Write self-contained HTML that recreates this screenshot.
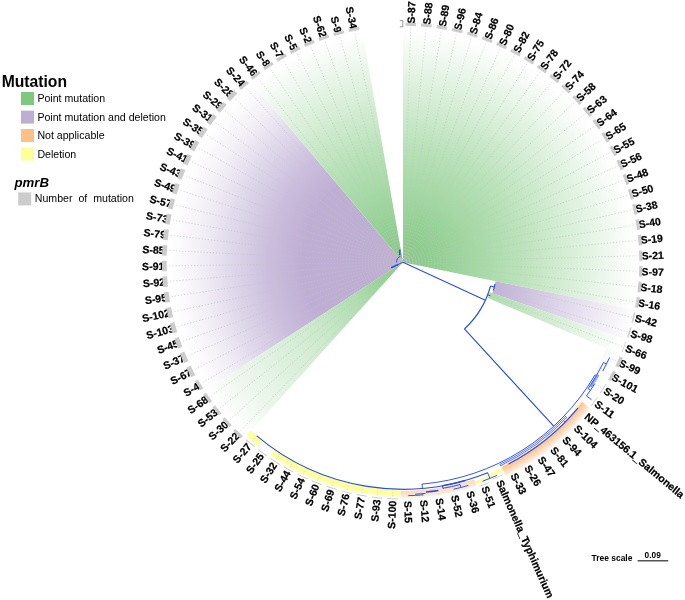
<!DOCTYPE html>
<html lang="en"><head><meta charset="utf-8"><title>Tree</title>
<style>
html,body{margin:0;padding:0;background:#fff;}
body{width:685px;height:600px;overflow:hidden;}
svg{display:block;}
</style></head><body>
<svg width="685" height="600" viewBox="0 0 685 600">
<defs><radialGradient id="g1" gradientUnits="userSpaceOnUse" cx="403" cy="262.2" r="234"><stop offset="0.0000" stop-color="#7fc97f"/><stop offset="0.5000" stop-color="#bae2ba"/><stop offset="0.8120" stop-color="#e5f4e5"/><stop offset="0.9915" stop-color="#ffffff"/></radialGradient><radialGradient id="g2" gradientUnits="userSpaceOnUse" cx="403" cy="262.2" r="240"><stop offset="0.3667" stop-color="#beaed4"/><stop offset="1.0000" stop-color="#ffffff"/></radialGradient><radialGradient id="g3" gradientUnits="userSpaceOnUse" cx="403" cy="262.2" r="234"><stop offset="0.0000" stop-color="#7fc97f"/><stop offset="0.5000" stop-color="#bae2ba"/><stop offset="0.8120" stop-color="#e5f4e5"/><stop offset="0.9915" stop-color="#ffffff"/></radialGradient><radialGradient id="g4" gradientUnits="userSpaceOnUse" cx="403" cy="262.2" r="234"><stop offset="0.0000" stop-color="#7fc97f"/><stop offset="0.2564" stop-color="#b0deb0"/><stop offset="0.5128" stop-color="#d0ebd0"/><stop offset="0.8547" stop-color="#edf7ed"/><stop offset="1.0000" stop-color="#ffffff"/></radialGradient><radialGradient id="g5" gradientUnits="userSpaceOnUse" cx="403" cy="262.2" r="234"><stop offset="0.0000" stop-color="#beaed4"/><stop offset="0.4274" stop-color="#beaed4"/><stop offset="0.5769" stop-color="#cbbedd"/><stop offset="0.7265" stop-color="#ded6ea"/><stop offset="0.8547" stop-color="#f1edf6"/><stop offset="0.9915" stop-color="#ffffff"/></radialGradient><radialGradient id="g6" gradientUnits="userSpaceOnUse" cx="403" cy="262.2" r="234"><stop offset="0.0000" stop-color="#7fc97f"/><stop offset="0.5000" stop-color="#bae2ba"/><stop offset="0.8120" stop-color="#e5f4e5"/><stop offset="0.9915" stop-color="#ffffff"/></radialGradient><radialGradient id="g7" gradientUnits="userSpaceOnUse" cx="403" cy="262.2" r="236"><stop offset="0.9364" stop-color="#f7f8fa"/><stop offset="1.0000" stop-color="#ffffff"/></radialGradient><radialGradient id="g8" gradientUnits="userSpaceOnUse" cx="403" cy="262.2" r="237.5"><stop offset="0.9528" stop-color="#fdc086"/><stop offset="0.9646" stop-color="#fdc797"/><stop offset="1.0000" stop-color="#fff6ee"/></radialGradient><radialGradient id="g9" gradientUnits="userSpaceOnUse" cx="403" cy="262.2" r="232.3"><stop offset="0.9836" stop-color="#ffff96"/><stop offset="0.9935" stop-color="#ffffa0"/><stop offset="1.0000" stop-color="#ffffc4"/></radialGradient><radialGradient id="g10" gradientUnits="userSpaceOnUse" cx="403" cy="262.2" r="234.2"><stop offset="0.9846" stop-color="#ffff96"/><stop offset="0.9939" stop-color="#ffffa0"/><stop offset="1.0000" stop-color="#ffffc4"/></radialGradient><radialGradient id="g11" gradientUnits="userSpaceOnUse" cx="403" cy="262.2" r="235.6"><stop offset="0.9711" stop-color="#fcd8bb"/><stop offset="1.0000" stop-color="#fdeee2"/></radialGradient><radialGradient id="g12" gradientUnits="userSpaceOnUse" cx="403" cy="262.2" r="234.5"><stop offset="0.9680" stop-color="#ffff96"/><stop offset="0.9872" stop-color="#ffffa0"/><stop offset="1.0000" stop-color="#ffffc4"/></radialGradient><radialGradient id="g13" gradientUnits="userSpaceOnUse" cx="403" cy="262.2" r="234.5"><stop offset="0.9680" stop-color="#ffff96"/><stop offset="0.9872" stop-color="#ffffa0"/><stop offset="1.0000" stop-color="#ffffc4"/></radialGradient></defs>
<rect width="685" height="600" fill="#fff"/>
<path d="M403 262.2L403 27.2A235 235 0 0 1 633.19 309.51Z" fill="url(#g1)"/>
<path d="M633.19 309.51A235 235 0 0 1 625.01 339.25L492.28 293.18A94.5 94.5 0 0 0 495.57 281.22Z" fill="url(#g2)"/>
<path d="M625.01 339.25A235 235 0 0 1 619.47 353.66L487.75 298A92 92 0 0 0 489.91 292.36Z" fill="url(#g3)"/>
<path d="M403 262.2L245.62 436.72A235 235 0 0 1 205.7 389.86Z" fill="url(#g4)"/>
<path d="M403 262.2L205.7 389.86A235 235 0 0 1 251.61 82.46Z" fill="url(#g5)"/>
<path d="M403 262.2L251.61 82.46A235 235 0 0 1 362.19 30.77Z" fill="url(#g6)"/>
<path d="M620.39 354.05A236 236 0 0 1 589.08 407.36L577.25 398.13A221 221 0 0 0 606.58 348.21Z" fill="url(#g7)"/>
<path d="M590.26 408.28A237.5 237.5 0 0 1 505.99 476.21L501.13 466.12A226.3 226.3 0 0 0 581.43 401.39Z" fill="url(#g8)"/>
<path d="M503.74 471.52A232.3 232.3 0 0 1 489.78 477.68L488.36 474.16A228.5 228.5 0 0 0 502.09 468.1Z" fill="url(#g9)"/>
<path d="M490.49 479.45A234.2 234.2 0 0 1 476.04 484.72L474.92 481.3A230.6 230.6 0 0 0 489.14 476.11Z" fill="url(#g10)"/>
<path d="M476.48 486.05A235.6 235.6 0 0 1 400.35 497.79L400.42 490.99A228.8 228.8 0 0 0 474.36 479.59Z" fill="url(#g11)"/>
<path d="M400.36 496.69A234.5 234.5 0 0 1 270.12 455.42L274.37 449.24A227 227 0 0 0 400.44 489.19Z" fill="url(#g12)"/>
<path d="M257.73 446.28A234.5 234.5 0 0 1 245.96 436.35L250.98 430.78A227 227 0 0 0 262.37 440.39Z" fill="url(#g13)"/>
<path d="M403 262.2L410.75 26.33M403 262.2L426.21 27.34M403 262.2L441.58 29.37M403 262.2L456.78 32.41M403 262.2L471.75 36.43M403 262.2L486.42 41.43M403 262.2L500.73 47.38M403 262.2L514.62 54.26M403 262.2L528.02 62.04M403 262.2L540.89 70.68M403 262.2L553.17 80.14M403 262.2L564.79 90.39M403 262.2L575.72 101.38M403 262.2L585.9 113.06M403 262.2L595.3 125.39M403 262.2L603.86 138.31M403 262.2L611.56 151.76M403 262.2L618.36 165.68M403 262.2L624.23 180.03M403 262.2L629.15 194.73M403 262.2L633.09 209.72M403 262.2L636.04 224.93M403 262.2L637.98 240.31M403 262.2L638.91 255.78M403 262.2L638.83 271.28M403 262.2L637.72 286.74M403 262.2L635.6 302.09M494.99 284.28L632.48 317.27M493.34 290.27L628.37 332.22M490.74 295.92L623.29 346.86M609.54 357.57L617.26 361.13M602.84 370.92L610.31 374.98M594.85 383.54L602.46 388.35M591.48 399.52L593.75 401.17M577.69 407.94L584.21 413.39M567.74 419.09L573.9 424.96M557.09 429.57L562.85 435.82M545.77 439.32L551.11 445.94M533.84 448.31L538.73 455.27M521.34 456.5L525.76 463.76M508.33 463.85L512.27 471.38M497.09 475.36L498.3 478.1M482.9 481.07L483.92 483.89M468.22 485.37L469.2 488.73M453.43 489.17L454.19 492.58M438.19 490.5L438.96 495.44M423.32 494.51L423.57 497.3M408.03 495.35L408.09 498.15M392.99 488.98L392.6 497.97M378.13 487.83L377.14 496.78M363.37 485.71L361.8 494.58M348.79 482.63L346.64 491.37M334.44 478.6L331.72 487.18M320.38 473.63L317.1 482.01M306.68 467.75L302.86 475.9M293.4 460.99L289.05 468.87M280.58 453.36L275.73 460.94M268.3 444.92L262.96 452.16M256.6 435.68L250.79 442.56M403 262.2L239.28 432.18M403 262.2L228.48 421.07M403 262.2L218.43 409.27M403 262.2L209.17 396.84M403 262.2L200.75 383.82M403 262.2L193.21 370.29M403 262.2L186.56 356.28M403 262.2L180.86 341.88M403 262.2L176.11 327.12M403 262.2L172.33 312.09M403 262.2L169.56 296.84M403 262.2L167.79 281.44M403 262.2L167.03 265.96M403 262.2L167.29 250.47M403 262.2L168.57 235.02M403 262.2L170.86 219.69M403 262.2L174.15 204.55M403 262.2L178.43 189.65M403 262.2L183.67 175.07M403 262.2L189.87 160.86M403 262.2L196.98 147.09M403 262.2L204.98 133.81M403 262.2L213.83 121.09M403 262.2L223.5 108.98M403 262.2L233.95 97.53M403 262.2L245.12 86.79M403 262.2L256.97 76.8M403 262.2L269.46 67.62M403 262.2L282.52 59.27M403 262.2L296.1 51.8M403 262.2L310.14 45.24M403 262.2L324.58 39.61M403 262.2L339.36 34.94M403 262.2L354.41 31.26" fill="none" stroke="#c3c3c3" stroke-opacity="0.9" stroke-width="0.7" stroke-dasharray="1.3 1.8"/>
<path d="M581.98 401.82A227 227 0 0 1 501.44 466.75" fill="none" stroke="#fff" stroke-opacity="0.8" stroke-width="0.9"/>
<path d="M403 262.2L485.34 300.24M490.53 285.98A90.7 90.7 0 0 1 464.39 328.96M490.53 285.98L494.29 287M495.06 283.96A94.6 94.6 0 0 1 493.32 290.33M487.68 294.7L490.29 295.71M464.39 328.96L553.74 426.13" fill="none" stroke="#2a4fe4" stroke-width="1.15" stroke-linejoin="miter"/>
<path d="M564.54 415.5L566.72 417.56M565.67 416.56A224.25 224.25 0 0 1 499.9 464.44M566.72 417.56A225.7 225.7 0 0 1 500.52 465.74M499.9 464.44L500.52 465.74M563.7 420.68L565.2 422.15" fill="none" stroke="#2a4fe4" stroke-width="0.75"/>
<path d="M595.08 374.89A222.7 222.7 0 0 1 422.02 484.09M595.08 374.89L596.38 375.65M603.47 362.59A224.2 224.2 0 0 1 588.21 388.54M603.47 362.59L606.42 364.07M609.52 357.63A227.5 227.5 0 0 1 602.74 371.1M588.21 388.54L590.52 390.12M594.66 383.83A227 227 0 0 1 586.41 395.95M586.41 395.95L591.42 399.6M487.52 472.45L489.91 478.39M497.03 475.39A233 233 0 0 1 482.69 481.15M422.02 484.09L422.39 488.37M442.45 485.95L442.87 488.31M460.1 484.59A229.6 229.6 0 0 1 442.87 488.31M460.1 484.59L460.7 486.91M468.28 485.45A232.6 232.6 0 0 1 453.74 489.2M425.67 493.39A232.3 232.3 0 0 1 415.16 494.18M423.35 494.81A233.5 233.5 0 0 1 408.3 495.64M396.5 262.43A6.5 6.5 0 0 1 400.46 256.22M403 262.2L397.56 264.74" fill="none" stroke="#2a4fe4" stroke-width="0.95" stroke-linecap="butt"/>
<path d="M465.57 480.41A227 227 0 0 1 442.42 485.75M438.34 490.48A231 231 0 0 1 425.94 492.06M399.8 255.3L399.7 249.6M398.02 264.52L391.22 267.69" fill="none" stroke="#2a4fe4" stroke-width="1.6"/>
<path d="M577.89 408.17A227.8 227.8 0 0 1 508.54 464.08M487.67 472.82A227 227 0 0 1 256.78 435.84" fill="none" stroke="#2a4fe4" stroke-width="1.15"/>
<path d="M598.2 374.9A225.4 225.4 0 0 1 590.74 386.93" fill="none" stroke="#2a4fe4" stroke-width="2.4" stroke-dasharray="0.55 0.55"/>
<g font-family="'Liberation Sans', Arial, sans-serif" font-weight="bold" font-size="10.55" fill="#000" stroke="#000" stroke-width="0.22" stroke-linejoin="round"><text transform="translate(403 262.2) rotate(-88.12)" x="238.7" y="3.8">S-87</text><text transform="translate(403 262.2) rotate(-84.35)" x="238.7" y="3.8">S-88</text><text transform="translate(403 262.2) rotate(-80.59)" x="238.7" y="3.8">S-89</text><text transform="translate(403 262.2) rotate(-76.83)" x="238.7" y="3.8">S-96</text><text transform="translate(403 262.2) rotate(-73.06)" x="238.7" y="3.8">S-84</text><text transform="translate(403 262.2) rotate(-69.3)" x="238.7" y="3.8">S-86</text><text transform="translate(403 262.2) rotate(-65.54)" x="238.7" y="3.8">S-80</text><text transform="translate(403 262.2) rotate(-61.77)" x="238.7" y="3.8">S-82</text><text transform="translate(403 262.2) rotate(-58.01)" x="238.7" y="3.8">S-75</text><text transform="translate(403 262.2) rotate(-54.25)" x="238.7" y="3.8">S-78</text><text transform="translate(403 262.2) rotate(-50.48)" x="238.7" y="3.8">S-72</text><text transform="translate(403 262.2) rotate(-46.72)" x="238.7" y="3.8">S-74</text><text transform="translate(403 262.2) rotate(-42.96)" x="238.7" y="3.8">S-58</text><text transform="translate(403 262.2) rotate(-39.19)" x="238.7" y="3.8">S-63</text><text transform="translate(403 262.2) rotate(-35.43)" x="238.7" y="3.8">S-64</text><text transform="translate(403 262.2) rotate(-31.67)" x="238.7" y="3.8">S-65</text><text transform="translate(403 262.2) rotate(-27.9)" x="238.7" y="3.8">S-55</text><text transform="translate(403 262.2) rotate(-24.14)" x="238.7" y="3.8">S-56</text><text transform="translate(403 262.2) rotate(-20.38)" x="238.7" y="3.8">S-48</text><text transform="translate(403 262.2) rotate(-16.61)" x="238.7" y="3.8">S-50</text><text transform="translate(403 262.2) rotate(-12.85)" x="238.7" y="3.8">S-38</text><text transform="translate(403 262.2) rotate(-9.09)" x="238.7" y="3.8">S-40</text><text transform="translate(403 262.2) rotate(-5.32)" x="238.7" y="3.8">S-19</text><text transform="translate(403 262.2) rotate(-1.56)" x="238.7" y="3.8">S-21</text><text transform="translate(403 262.2) rotate(2.2)" x="238.7" y="3.8">S-97</text><text transform="translate(403 262.2) rotate(5.97)" x="238.7" y="3.8">S-18</text><text transform="translate(403 262.2) rotate(9.73)" x="238.7" y="3.8">S-16</text><text transform="translate(403 262.2) rotate(13.49)" x="238.7" y="3.8">S-42</text><text transform="translate(403 262.2) rotate(17.26)" x="238.7" y="3.8">S-98</text><text transform="translate(403 262.2) rotate(21.02)" x="238.7" y="3.8">S-66</text><text transform="translate(403 262.2) rotate(24.78)" x="238.7" y="3.8">S-99</text><text transform="translate(403 262.2) rotate(28.55)" x="238.7" y="3.8">S-101</text><text transform="translate(403 262.2) rotate(32.31)" x="238.7" y="3.8">S-20</text><text transform="translate(403 262.2) rotate(36.08)" x="238.7" y="3.8">S-11</text><text transform="translate(403 262.2) rotate(39.84)" x="238.7" y="3.8">NP_463156.1_Salmonella</text><text transform="translate(403 262.2) rotate(43.6)" x="238.7" y="3.8">S-104</text><text transform="translate(403 262.2) rotate(47.37)" x="238.7" y="3.8">S-94</text><text transform="translate(403 262.2) rotate(51.13)" x="238.7" y="3.8">S-81</text><text transform="translate(403 262.2) rotate(54.89)" x="238.7" y="3.8">S-47</text><text transform="translate(403 262.2) rotate(58.66)" x="238.7" y="3.8">S-26</text><text transform="translate(403 262.2) rotate(62.42)" x="238.7" y="3.8">S-33</text><text transform="translate(403 262.2) rotate(66.18)" x="238.7" y="3.8">Salmonella_Typhimurium</text><text transform="translate(403 262.2) rotate(69.95)" x="238.7" y="3.8">S-51</text><text transform="translate(403 262.2) rotate(73.71)" x="238.7" y="3.8">S-36</text><text transform="translate(403 262.2) rotate(77.47)" x="238.7" y="3.8">S-52</text><text transform="translate(403 262.2) rotate(81.24)" x="238.7" y="3.8">S-14</text><text transform="translate(403 262.2) rotate(85)" x="238.7" y="3.8">S-12</text><text transform="translate(403 262.2) rotate(88.76)" x="238.7" y="3.8">S-15</text><text transform="translate(403 262.2) rotate(272.53)" x="-238.7" y="3.8" text-anchor="end">S-100</text><text transform="translate(403 262.2) rotate(276.29)" x="-238.7" y="3.8" text-anchor="end">S-93</text><text transform="translate(403 262.2) rotate(280.05)" x="-238.7" y="3.8" text-anchor="end">S-77</text><text transform="translate(403 262.2) rotate(283.82)" x="-238.7" y="3.8" text-anchor="end">S-76</text><text transform="translate(403 262.2) rotate(287.58)" x="-238.7" y="3.8" text-anchor="end">S-69</text><text transform="translate(403 262.2) rotate(291.34)" x="-238.7" y="3.8" text-anchor="end">S-60</text><text transform="translate(403 262.2) rotate(295.11)" x="-238.7" y="3.8" text-anchor="end">S-54</text><text transform="translate(403 262.2) rotate(298.87)" x="-238.7" y="3.8" text-anchor="end">S-44</text><text transform="translate(403 262.2) rotate(302.63)" x="-238.7" y="3.8" text-anchor="end">S-32</text><text transform="translate(403 262.2) rotate(306.4)" x="-238.7" y="3.8" text-anchor="end">S-25</text><text transform="translate(403 262.2) rotate(310.16)" x="-238.7" y="3.8" text-anchor="end">S-27</text><text transform="translate(403 262.2) rotate(313.92)" x="-238.7" y="3.8" text-anchor="end">S-22</text><text transform="translate(403 262.2) rotate(317.69)" x="-238.7" y="3.8" text-anchor="end">S-30</text><text transform="translate(403 262.2) rotate(321.45)" x="-238.7" y="3.8" text-anchor="end">S-53</text><text transform="translate(403 262.2) rotate(325.22)" x="-238.7" y="3.8" text-anchor="end">S-68</text><text transform="translate(403 262.2) rotate(328.98)" x="-238.7" y="3.8" text-anchor="end">S-4</text><text transform="translate(403 262.2) rotate(332.74)" x="-238.7" y="3.8" text-anchor="end">S-67</text><text transform="translate(403 262.2) rotate(336.51)" x="-238.7" y="3.8" text-anchor="end">S-37</text><text transform="translate(403 262.2) rotate(340.27)" x="-238.7" y="3.8" text-anchor="end">S-45</text><text transform="translate(403 262.2) rotate(344.03)" x="-238.7" y="3.8" text-anchor="end">S-103</text><text transform="translate(403 262.2) rotate(347.8)" x="-238.7" y="3.8" text-anchor="end">S-102</text><text transform="translate(403 262.2) rotate(351.56)" x="-238.7" y="3.8" text-anchor="end">S-95</text><text transform="translate(403 262.2) rotate(355.32)" x="-238.7" y="3.8" text-anchor="end">S-92</text><text transform="translate(403 262.2) rotate(359.09)" x="-238.7" y="3.8" text-anchor="end">S-91</text><text transform="translate(403 262.2) rotate(362.85)" x="-238.7" y="3.8" text-anchor="end">S-85</text><text transform="translate(403 262.2) rotate(366.61)" x="-238.7" y="3.8" text-anchor="end">S-79</text><text transform="translate(403 262.2) rotate(370.38)" x="-238.7" y="3.8" text-anchor="end">S-73</text><text transform="translate(403 262.2) rotate(374.14)" x="-238.7" y="3.8" text-anchor="end">S-57</text><text transform="translate(403 262.2) rotate(377.9)" x="-238.7" y="3.8" text-anchor="end">S-49</text><text transform="translate(403 262.2) rotate(381.67)" x="-238.7" y="3.8" text-anchor="end">S-43</text><text transform="translate(403 262.2) rotate(385.43)" x="-238.7" y="3.8" text-anchor="end">S-41</text><text transform="translate(403 262.2) rotate(389.19)" x="-238.7" y="3.8" text-anchor="end">S-39</text><text transform="translate(403 262.2) rotate(392.96)" x="-238.7" y="3.8" text-anchor="end">S-35</text><text transform="translate(403 262.2) rotate(396.72)" x="-238.7" y="3.8" text-anchor="end">S-31</text><text transform="translate(403 262.2) rotate(400.48)" x="-238.7" y="3.8" text-anchor="end">S-29</text><text transform="translate(403 262.2) rotate(404.25)" x="-238.7" y="3.8" text-anchor="end">S-28</text><text transform="translate(403 262.2) rotate(408.01)" x="-238.7" y="3.8" text-anchor="end">S-24</text><text transform="translate(403 262.2) rotate(411.77)" x="-238.7" y="3.8" text-anchor="end">S-46</text><text transform="translate(403 262.2) rotate(415.54)" x="-238.7" y="3.8" text-anchor="end">S-8</text><text transform="translate(403 262.2) rotate(419.3)" x="-238.7" y="3.8" text-anchor="end">S-7</text><text transform="translate(403 262.2) rotate(423.06)" x="-238.7" y="3.8" text-anchor="end">S-5</text><text transform="translate(403 262.2) rotate(426.83)" x="-238.7" y="3.8" text-anchor="end">S-2</text><text transform="translate(403 262.2) rotate(430.59)" x="-238.7" y="3.8" text-anchor="end">S-62</text><text transform="translate(403 262.2) rotate(434.35)" x="-238.7" y="3.8" text-anchor="end">S-9</text><text transform="translate(403 262.2) rotate(438.12)" x="-238.7" y="3.8" text-anchor="end">S-34</text></g>
<g fill="#cccccc"><rect x="236.3" y="-5.3" width="3.2" height="10.6" transform="translate(403 262.2) rotate(-88.12)"/><rect x="236.3" y="-5.3" width="3.2" height="10.6" transform="translate(403 262.2) rotate(-84.35)"/><rect x="236.3" y="-5.3" width="3.2" height="10.6" transform="translate(403 262.2) rotate(-80.59)"/><rect x="236.3" y="-5.3" width="3.2" height="10.6" transform="translate(403 262.2) rotate(-76.83)"/><rect x="236.3" y="-5.3" width="3.2" height="10.6" transform="translate(403 262.2) rotate(-73.06)"/><rect x="236.3" y="-5.3" width="3.2" height="10.6" transform="translate(403 262.2) rotate(-69.3)"/><rect x="236.3" y="-5.3" width="3.2" height="10.6" transform="translate(403 262.2) rotate(-65.54)"/><rect x="236.3" y="-5.3" width="3.2" height="10.6" transform="translate(403 262.2) rotate(-61.77)"/><rect x="236.3" y="-5.3" width="3.2" height="10.6" transform="translate(403 262.2) rotate(-58.01)"/><rect x="236.3" y="-5.3" width="3.2" height="10.6" transform="translate(403 262.2) rotate(-54.25)"/><rect x="236.3" y="-5.3" width="3.2" height="10.6" transform="translate(403 262.2) rotate(-50.48)"/><rect x="236.3" y="-5.3" width="3.2" height="10.6" transform="translate(403 262.2) rotate(-46.72)"/><rect x="236.3" y="-5.3" width="3.2" height="10.6" transform="translate(403 262.2) rotate(-42.96)"/><rect x="236.3" y="-5.3" width="3.2" height="10.6" transform="translate(403 262.2) rotate(-39.19)"/><rect x="236.3" y="-5.3" width="3.2" height="10.6" transform="translate(403 262.2) rotate(-35.43)"/><rect x="236.3" y="-5.3" width="3.2" height="10.6" transform="translate(403 262.2) rotate(-31.67)"/><rect x="236.3" y="-5.3" width="3.2" height="10.6" transform="translate(403 262.2) rotate(-27.9)"/><rect x="236.3" y="-5.3" width="3.2" height="10.6" transform="translate(403 262.2) rotate(-24.14)"/><rect x="236.3" y="-5.3" width="3.2" height="10.6" transform="translate(403 262.2) rotate(-20.38)"/><rect x="236.3" y="-5.3" width="3.2" height="10.6" transform="translate(403 262.2) rotate(-16.61)"/><rect x="236.3" y="-5.3" width="3.2" height="10.6" transform="translate(403 262.2) rotate(-12.85)"/><rect x="236.3" y="-5.3" width="3.2" height="10.6" transform="translate(403 262.2) rotate(-9.09)"/><rect x="236.3" y="-5.3" width="3.2" height="10.6" transform="translate(403 262.2) rotate(-5.32)"/><rect x="236.3" y="-5.3" width="3.2" height="10.6" transform="translate(403 262.2) rotate(-1.56)"/><rect x="236.3" y="-5.3" width="3.2" height="10.6" transform="translate(403 262.2) rotate(2.2)"/><rect x="236.3" y="-5.3" width="3.2" height="10.6" transform="translate(403 262.2) rotate(5.97)"/><rect x="236.3" y="-5.3" width="3.2" height="10.6" transform="translate(403 262.2) rotate(9.73)"/><rect x="236.3" y="-5.3" width="1.5" height="10.6" transform="translate(403 262.2) rotate(13.49)"/><rect x="236.3" y="-5.3" width="1.5" height="10.6" transform="translate(403 262.2) rotate(17.26)"/><rect x="236.3" y="-5.3" width="3.6" height="10.6" transform="translate(403 262.2) rotate(24.78)"/><rect x="236.3" y="-5.3" width="3.2" height="10.6" transform="translate(403 262.2) rotate(28.55)"/><rect x="236.3" y="-5.3" width="3.2" height="10.6" transform="translate(403 262.2) rotate(133.92)"/><rect x="236.3" y="-5.3" width="3.2" height="10.6" transform="translate(403 262.2) rotate(137.69)"/><rect x="236.3" y="-5.3" width="3.2" height="10.6" transform="translate(403 262.2) rotate(141.45)"/><rect x="236.3" y="-5.3" width="3.2" height="10.6" transform="translate(403 262.2) rotate(145.22)"/><rect x="236.3" y="-5.3" width="3.2" height="10.6" transform="translate(403 262.2) rotate(148.98)"/><rect x="236.3" y="-5.3" width="4.7" height="10.6" transform="translate(403 262.2) rotate(152.74)"/><rect x="236.3" y="-5.3" width="4.7" height="10.6" transform="translate(403 262.2) rotate(156.51)"/><rect x="236.3" y="-5.3" width="4.7" height="10.6" transform="translate(403 262.2) rotate(160.27)"/><rect x="236.3" y="-5.3" width="4.7" height="10.6" transform="translate(403 262.2) rotate(164.03)"/><rect x="236.3" y="-5.3" width="4.7" height="10.6" transform="translate(403 262.2) rotate(167.8)"/><rect x="236.3" y="-5.3" width="4.7" height="10.6" transform="translate(403 262.2) rotate(171.56)"/><rect x="236.3" y="-5.3" width="4.7" height="10.6" transform="translate(403 262.2) rotate(175.32)"/><rect x="236.3" y="-5.3" width="4.7" height="10.6" transform="translate(403 262.2) rotate(179.09)"/><rect x="236.3" y="-5.3" width="4.7" height="10.6" transform="translate(403 262.2) rotate(182.85)"/><rect x="236.3" y="-5.3" width="4.7" height="10.6" transform="translate(403 262.2) rotate(186.61)"/><rect x="236.3" y="-5.3" width="4.7" height="10.6" transform="translate(403 262.2) rotate(190.38)"/><rect x="236.3" y="-5.3" width="4.7" height="10.6" transform="translate(403 262.2) rotate(194.14)"/><rect x="236.3" y="-5.3" width="4.7" height="10.6" transform="translate(403 262.2) rotate(197.9)"/><rect x="236.3" y="-5.3" width="4.7" height="10.6" transform="translate(403 262.2) rotate(201.67)"/><rect x="236.3" y="-5.3" width="4.7" height="10.6" transform="translate(403 262.2) rotate(205.43)"/><rect x="236.3" y="-5.3" width="4.7" height="10.6" transform="translate(403 262.2) rotate(209.19)"/><rect x="236.3" y="-5.3" width="4.7" height="10.6" transform="translate(403 262.2) rotate(212.96)"/><rect x="236.3" y="-5.3" width="4.7" height="10.6" transform="translate(403 262.2) rotate(216.72)"/><rect x="236.3" y="-5.3" width="4.7" height="10.6" transform="translate(403 262.2) rotate(220.48)"/><rect x="236.3" y="-5.3" width="4.7" height="10.6" transform="translate(403 262.2) rotate(224.25)"/><rect x="236.3" y="-5.3" width="3.2" height="10.6" transform="translate(403 262.2) rotate(228.01)"/><rect x="236.3" y="-5.3" width="3.2" height="10.6" transform="translate(403 262.2) rotate(231.77)"/><rect x="236.3" y="-5.3" width="3.2" height="10.6" transform="translate(403 262.2) rotate(235.54)"/><rect x="236.3" y="-5.3" width="3.2" height="10.6" transform="translate(403 262.2) rotate(239.3)"/><rect x="236.3" y="-5.3" width="3.2" height="10.6" transform="translate(403 262.2) rotate(243.06)"/><rect x="236.3" y="-5.3" width="3.2" height="10.6" transform="translate(403 262.2) rotate(246.83)"/><rect x="236.3" y="-5.3" width="3.2" height="10.6" transform="translate(403 262.2) rotate(250.59)"/><rect x="236.3" y="-5.3" width="3.2" height="10.6" transform="translate(403 262.2) rotate(254.35)"/><rect x="236.3" y="-5.3" width="3.2" height="10.6" transform="translate(403 262.2) rotate(258.12)"/></g>
<g fill="#cdcdcd"><rect x="236.3" y="-5.3" width="0.8" height="10.6" transform="translate(403 262.2) rotate(21.02)"/><rect x="236.3" y="-5.3" width="0.9" height="10.6" transform="translate(403 262.2) rotate(32.31)"/><rect x="236.3" y="-5.3" width="0.9" height="10.6" transform="translate(403 262.2) rotate(36.08)"/><rect x="234.3" y="-5.3" width="0.8" height="10.6" transform="translate(403 262.2) rotate(66.18)"/><rect x="236.3" y="-5.3" width="0.8" height="10.6" transform="translate(403 262.2) rotate(69.95)"/><rect x="236.3" y="-5.3" width="1" height="10.6" transform="translate(403 262.2) rotate(92.53)"/><rect x="236.3" y="-5.3" width="1" height="10.6" transform="translate(403 262.2) rotate(96.29)"/><rect x="236.3" y="-5.3" width="1" height="10.6" transform="translate(403 262.2) rotate(100.05)"/><rect x="236.3" y="-5.3" width="1" height="10.6" transform="translate(403 262.2) rotate(103.82)"/><rect x="236.3" y="-5.3" width="1" height="10.6" transform="translate(403 262.2) rotate(107.58)"/><rect x="236.3" y="-5.3" width="1" height="10.6" transform="translate(403 262.2) rotate(111.34)"/><rect x="236.3" y="-5.3" width="1" height="10.6" transform="translate(403 262.2) rotate(115.11)"/><rect x="236.3" y="-5.3" width="1" height="10.6" transform="translate(403 262.2) rotate(118.87)"/><rect x="236.3" y="-5.3" width="1" height="10.6" transform="translate(403 262.2) rotate(122.63)"/><rect x="236.3" y="-5.3" width="1" height="10.6" transform="translate(403 262.2) rotate(126.4)"/><rect x="236.3" y="-5.3" width="1" height="10.6" transform="translate(403 262.2) rotate(130.16)"/></g>
<path d="M399.8 20.6H402.8V26.8H399.8" fill="none" stroke="#6a6a6a" stroke-width="0.7"/>
<g font-family="'Liberation Sans', Arial, sans-serif" fill="#000"><text x="1.7" y="86.7" font-size="15.7" font-weight="bold">Mutation</text><rect x="21" y="92" width="13" height="13" fill="#7fc97f"/><text x="37.4" y="102.05" font-size="10.6">Point mutation</text><rect x="21" y="110.6" width="13" height="13" fill="#beaed4"/><text x="37.4" y="120.65" font-size="10.6">Point mutation and deletion</text><rect x="21" y="129" width="13" height="13" fill="#fdc086"/><text x="37.4" y="139.05" font-size="10.6">Not applicable</text><rect x="21" y="147.5" width="13" height="13" fill="#ffff99"/><text x="37.4" y="157.55" font-size="10.6">Deletion</text><text x="14.5" y="186.6" font-size="13.2" font-weight="bold" font-style="italic">pmrB</text><rect x="18.2" y="192.4" width="13" height="13" fill="#cccccc"/><text x="34.8" y="202.4" font-size="10.6" word-spacing="3.0">Number of mutation</text><text x="591.6" y="560.8" font-size="8.45" font-weight="bold">Tree scale</text><text x="652.7" y="557.6" font-size="8.3" font-weight="bold" text-anchor="middle">0.09</text><rect x="637.6" y="560" width="30.6" height="1.5" fill="#555"/></g>
</svg>
</body></html>
